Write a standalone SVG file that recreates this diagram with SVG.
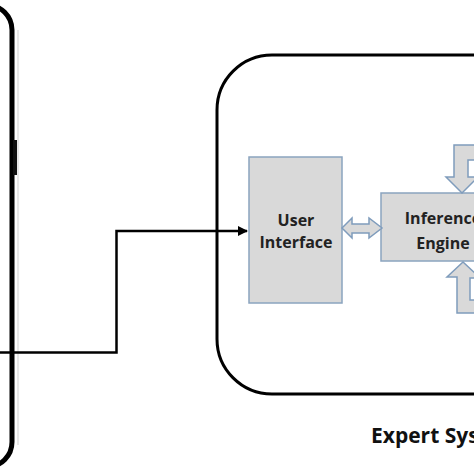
<svg xmlns="http://www.w3.org/2000/svg" width="474" height="474" viewBox="0 0 474 474">
  <style>
    .box { fill: #d9d9d9; stroke: #8aa4bf; stroke-width: 1.5; }
    .blk { fill: #d9d9d9; stroke: #7f9cbc; stroke-width: 1.5; stroke-linejoin: miter; }
    .lbl { font-family: "Open Sans", "Liberation Sans", sans-serif; font-weight: bold; font-size: 16px; fill: #222; text-anchor: middle; }
    .title { font-family: "Open Sans", "Liberation Sans", sans-serif; font-weight: bold; font-size: 21px; fill: #111; }
    .wire { fill: none; stroke: #000; stroke-width: 2.5; }
  </style>
  <defs>
    <marker id="ah" markerWidth="10" markerHeight="10" refX="9" refY="5" orient="auto" markerUnits="userSpaceOnUse">
      <path d="M0,0 L10,5 L0,10 Z" fill="#000"/>
    </marker>
  </defs>
  <rect width="474" height="474" fill="#fff"/>

  <g id="phone">
    <rect x="-60" y="5" width="72" height="462" rx="25" fill="none" stroke="#000" stroke-width="5"/>
    <rect x="13" y="140" width="4" height="35" fill="#111"/>
    <line x1="18" y1="30" x2="18" y2="445" stroke="#e8e8e8" stroke-width="2"/>
  </g>

  <g id="expert-system">
    <rect x="217" y="55" width="420" height="339" rx="55" fill="none" stroke="#000" stroke-width="3"/>
    <text class="title" x="371" y="443">Expert System</text>
  </g>

  <g id="user-interface">
    <rect class="box" x="249" y="157" width="93" height="146"/>
    <text class="lbl" x="296" y="226">User</text>
    <text class="lbl" x="296" y="248">Interface</text>
  </g>

  <g id="inference-engine">
    <rect class="box" x="381" y="193" width="124" height="68"/>
    <text class="lbl" x="443" y="224">Inference</text>
    <text class="lbl" x="443" y="249">Engine</text>
  </g>

  <g id="top-arrow">
    <path class="blk" d="M454,145 L480,145 L480,177 L478,177 L462,193 L446,177 L454,177 Z"/>
    <rect x="468" y="160" width="20" height="17" fill="#fff" stroke="#7f9cbc" stroke-width="1.5"/>
  </g>

  <g id="bottom-arrow">
    <path class="blk" d="M457,313 L457,277 L447,277 L463,262 L479,277 L485,277 L485,313 Z"/>
    <rect x="470" y="278" width="20" height="22" fill="#fff" stroke="#7f9cbc" stroke-width="1.5"/>
  </g>

  <g id="connectors">
    <path class="wire" d="M0,352.5 L116.5,352.5 L116.5,231 L247,231" marker-end="url(#ah)"/>
    <path class="blk" d="M342,228 L352,218 L352,224 L369,224 L369,218 L382,228 L369,238 L369,233 L352,233 L352,238 Z"/>
  </g>
</svg>
